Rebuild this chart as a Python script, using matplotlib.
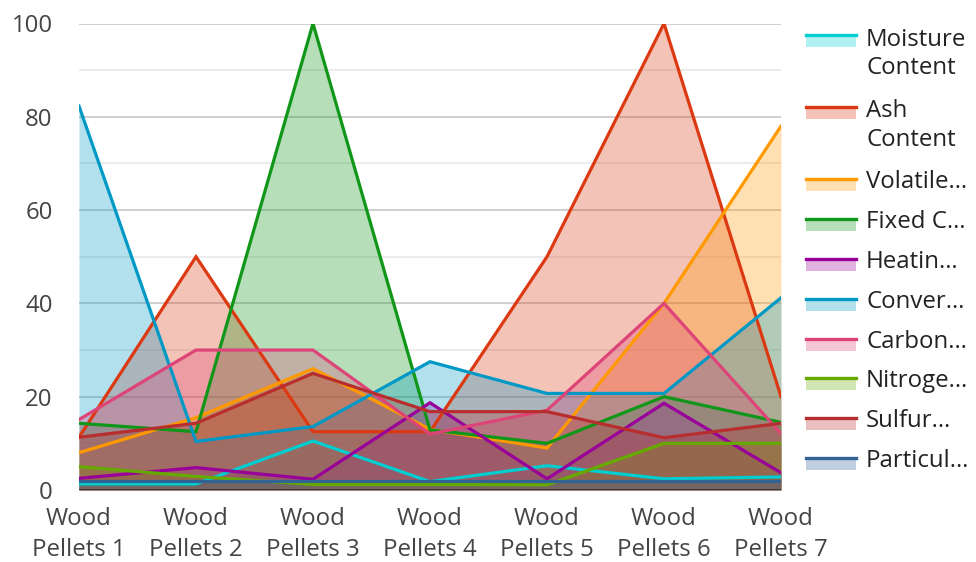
import numpy as np
import matplotlib.pyplot as plt
from matplotlib.patches import Rectangle
from matplotlib.lines import Line2D

plt.rcParams['font.family'] = ['Open Sans', 'DejaVu Sans']

categories = ['Wood\nPellets 1', 'Wood\nPellets 2', 'Wood\nPellets 3', 'Wood\nPellets 4',
              'Wood\nPellets 5', 'Wood\nPellets 6', 'Wood\nPellets 7']

moisture = [1.3, 1.3, 10.5, 1.8, 5.2, 2.4, 2.8]
ash = [11.3, 50, 12.5, 12.5, 50, 100, 20]
volatile = [8, 15.5, 26, 13, 9, 40, 78]
fixed_carbon = [14.3, 12.5, 100, 12.9, 10, 20, 14.5]
heating = [2.5, 4.8, 2.3, 18.7, 2.4, 18.6, 3.7]
conversion = [82.3, 10.4, 13.6, 27.5, 20.7, 20.7, 41.2]
carbon = [15.1, 30, 30, 12, 17.1, 40, 12.1]
nitrogen = [5, 2.9, 1.2, 1.2, 1.1, 10, 10]
sulfur = [11.3, 14.3, 25, 16.8, 16.8, 11.2, 14.3]
particulate = [2, 2, 2, 2, 2, 2, 2]

series = [moisture, ash, volatile, fixed_carbon, heating,
          conversion, carbon, nitrogen, sulfur, particulate]
labels = ['Moisture\nContent', 'Ash\nContent', 'Volatile…', 'Fixed C…', 'Heatin…',
          'Conver…', 'Carbon…', 'Nitroge…', 'Sulfur…', 'Particul…']
colors = ['#00CED1', '#DC3912', '#FF9900', '#109618', '#990099',
          '#0099C6', '#DD4477', '#66AA00', '#B82E2E', '#316395']

W, H = 976, 562
fig = plt.figure(figsize=(W / 100, H / 100), dpi=100)
ax = fig.add_axes([79 / W, 72 / H, (781 - 79) / W, (490 - 23.5) / H])

x = np.arange(len(categories))
for i, (vals, c) in enumerate(zip(series, colors)):
    ax.fill_between(x, 0, vals, color=c, alpha=0.3, lw=0, zorder=2 + i * 0.01)
for i, (vals, c) in enumerate(zip(series, colors)):
    ax.plot(x, vals, color=c, lw=2.3, zorder=3 + i * 0.01, solid_joinstyle='miter')

ax.set_xlim(0, 6)
ax.set_ylim(0, 100)
ax.set_yticks(range(0, 101, 20))
ax.set_yticks(range(10, 100, 20), minor=True)
ax.set_xticks(x)
ax.set_xticklabels(categories, linespacing=1.4)
ax.tick_params(axis='both', which='both', length=0, labelsize=17.3, colors='#444444')
ax.tick_params(axis='y', pad=19)
ax.tick_params(axis='x', pad=12)
ax.grid(True, which='major', axis='y', color='#cccccc', lw=1.3, zorder=0)
ax.grid(True, which='minor', axis='y', color='#ebebeb', lw=1.3, zorder=0)
ax.axhline(0, color='#333333', lw=2, zorder=5)
for s in ax.spines.values():
    s.set_visible(False)

# legend drawn in figure pixels
line_ys = [35, 107, 179, 219, 259, 298.5, 338.5, 378, 418, 458]
for ly, lab, c in zip(line_ys, labels, colors):
    fig.add_artist(Rectangle((806 / W, 1 - (ly + 12) / H), 50 / W, 11 / H,
                             transform=fig.transFigure, facecolor=c, alpha=0.3, lw=0))
    fig.add_artist(Line2D([806 / W, 856 / W], [1 - ly / H] * 2,
                          transform=fig.transFigure, color=c, lw=2.4))
    extra = lab.count('\n') * 30
    fig.text(866 / W, 1 - (ly + 9 + extra) / H, lab, fontsize=17.3, color='#222222',
             va='baseline', ha='left', linespacing=1.25)

fig.savefig('out.png', dpi=100)
